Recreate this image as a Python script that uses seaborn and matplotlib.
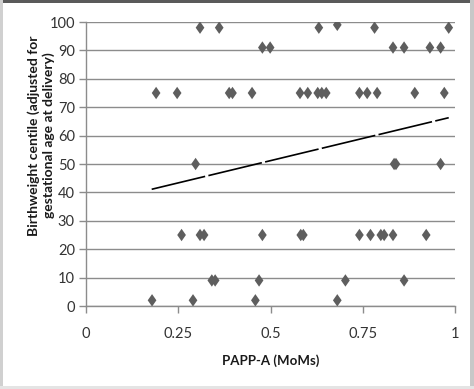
import matplotlib
matplotlib.use("Agg")
import matplotlib.pyplot as plt
import seaborn as sns
import pandas as pd
from matplotlib.patches import Rectangle

# ---- data ----
papp_a = [0.309, 0.361, 0.631, 0.681, 0.782, 0.983,
          0.478, 0.499, 0.832, 0.862, 0.932, 0.961,
          0.190, 0.247, 0.388, 0.397, 0.450, 0.580, 0.601, 0.628, 0.639, 0.651,
          0.741, 0.762, 0.789, 0.891, 0.971,
          0.297, 0.835, 0.840, 0.961,
          0.259, 0.309, 0.320, 0.478, 0.582, 0.589, 0.741, 0.771, 0.799, 0.808,
          0.832, 0.922,
          0.341, 0.350, 0.469, 0.703, 0.862,
          0.179, 0.290, 0.459, 0.681]
centile = [98, 98, 98, 99, 98, 98,
           91, 91, 91, 91, 91, 91,
           75, 75, 75, 75, 75, 75, 75, 75, 75, 75,
           75, 75, 75, 75, 75,
           50, 50, 50, 50,
           25, 25, 25, 25, 25, 25, 25, 25, 25, 25,
           25, 25,
           9, 9, 9, 9, 9,
           2, 2, 2, 2]
trend_x = [0.178, 0.983]
trend_y = [41.1, 66.3]
x_ticks = [0, 0.25, 0.5, 0.75, 1]
x_tick_labels = ["0", "0.25", "0.5", "0.75", "1"]
y_ticks = list(range(0, 101, 10))

df = pd.DataFrame({"papp": papp_a, "centile": centile})

sns.set_theme(style="white")
plt.rcParams["font.family"] = ["Lato", "DejaVu Sans"]

fig = plt.figure(figsize=(4.74, 3.89), dpi=100)
ax = fig.add_axes([86/474, 1 - 306/389, (455-86)/474, (306-22)/389])

diamond = [(0, 1), (0.7, 0), (0, -1), (-0.7, 0), (0, 1)]
sns.scatterplot(data=df, x="papp", y="centile", ax=ax, marker=diamond,
                s=80, color="#5e5e5e", edgecolor="none", linewidth=0, zorder=3)
sns.lineplot(x=trend_x, y=trend_y, ax=ax, color="black", linewidth=1.2,
             linestyle=(0, (33, 2)), zorder=2)

ax.set_xlim(0, 1)
ax.set_ylim(0, 100)
ax.set_xticks(x_ticks)
ax.set_xticklabels(x_tick_labels)
ax.set_yticks(y_ticks)
ax.yaxis.grid(True, color="#8c8c8c", linewidth=1.0)
ax.xaxis.grid(False)
ax.set_axisbelow(True)
for side in ["top", "right"]:
    ax.spines[side].set_visible(False)
for side in ["left", "bottom"]:
    ax.spines[side].set_color("#8c8c8c")
    ax.spines[side].set_linewidth(1.0)
ax.tick_params(axis="both", which="major", length=5, width=1.0, color="#8c8c8c",
               direction="out", labelsize=10.5, labelcolor="#333333", pad=3,
               bottom=True, left=True)
ax.tick_params(axis="x", pad=10)
ax.set_xlabel("PAPP-A (MoMs)", fontsize=9.5, fontweight="bold", color="#1a1a1a")
ax.xaxis.set_label_coords(0.5, -0.17)
ax.set_ylabel("Birthweight centile (adjusted for\ngestational age at delivery)",
              fontsize=10, fontweight="bold", color="#1a1a1a", linespacing=1.15)
ax.yaxis.set_label_coords(-0.085, 0.60)

# image frame
fig.patches.append(Rectangle((0, 1 - 3/389), 1, 3/389, transform=fig.transFigure,
                             facecolor="#5a5a5a", edgecolor="none"))
fig.patches.append(Rectangle((0, 0), 3/474, 1, transform=fig.transFigure,
                             facecolor="#d0d0d0", edgecolor="none"))
fig.patches.append(Rectangle((1 - 4/474, 0), 4/474, 1, transform=fig.transFigure,
                             facecolor="#c8c8c8", edgecolor="none"))
fig.patches.append(Rectangle((0, 0), 1, 3/389, transform=fig.transFigure,
                             facecolor="#e4e4e4", edgecolor="none"))

fig.savefig("out.png", dpi=100)
